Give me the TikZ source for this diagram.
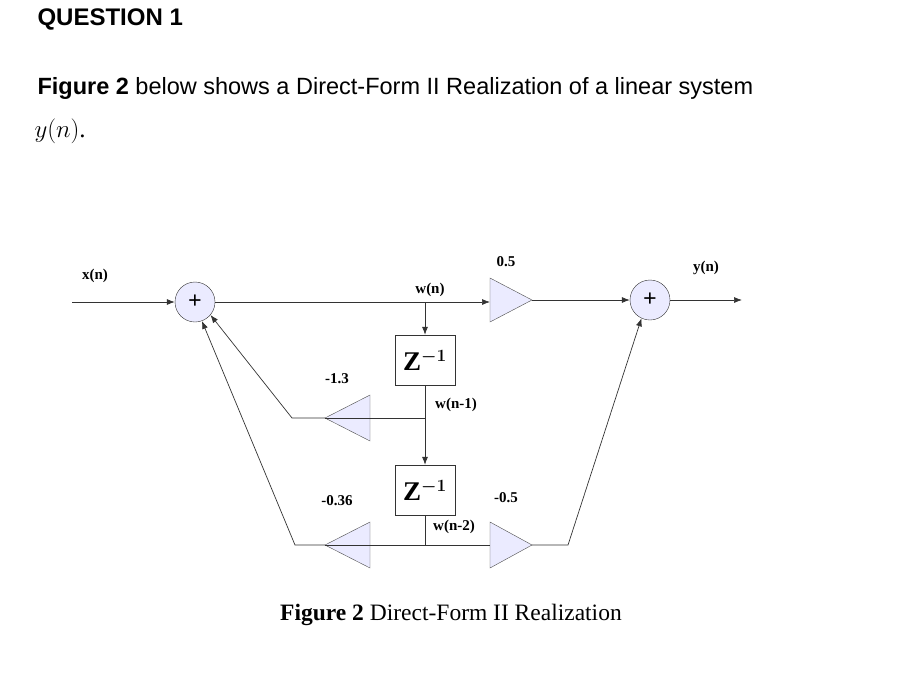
\documentclass[tikz,border=0pt]{standalone}
\usepackage{fontspec}
\setmainfont{Liberation Serif}
\newfontfamily\sansf{Liberation Sans}
\usetikzlibrary{arrows.meta}
\begin{document}
\begin{tikzpicture}[x=1pt,y=-1pt,
  sig/.style={draw=black!80,line width=0.7pt},
  arr/.style={sig,-{Latex[length=8pt,width=6pt]}},
  summ/.style={circle,draw=black!80,fill=blue!8,minimum size=40pt,inner sep=0pt,font=\fontsize{24}{24}\selectfont\bfseries},
  dly/.style={draw=black!80,fill=white,minimum width=60pt,minimum height=50pt,inner sep=0pt,font=\fontsize{27}{27}\selectfont\bfseries\boldmath},
  lab/.style={font=\fontsize{15}{15}\selectfont\bfseries},
  tri/.style={draw=black!70,fill=blue!8}]
\useasboundingbox (0,0) rectangle (907,678);
\node[anchor=west,font=\sansf\bfseries\fontsize{24}{24}\selectfont] (q) at (34,19) {QUESTION 1};
\node[anchor=west,font=\sansf\fontsize{23.5}{24}\selectfont] (t) at (34,88) {\textbf{Figure 2} below shows a Direct-Form II Realization of a linear system};
\node[anchor=west,font=\fontsize{25}{25}\selectfont] (t2) at (31,131) {$y(n)$.};
\node[font=\fontsize{23.5}{24}\selectfont] (cap) at (451,615) {\textbf{Figure 2} Direct-Form II Realization};

\node[summ] (s1) at (195,302) {+};
\node[summ] (s2) at (650,300) {+};
\node[dly] (d1) at (425,360) {Z$^{-1}$};
\node[dly] (d2) at (425,490) {Z$^{-1}$};
% triangles
\draw[tri] (490,278) -- (532,300) -- (490,322) -- cycle;
\draw[tri] (370,395) -- (325,418) -- (370,441) -- cycle;
\draw[tri] (370,522) -- (325,545) -- (370,568) -- cycle;
\draw[tri] (490,522) -- (532,545) -- (490,568) -- cycle;
\coordinate (in) at (72,302);
\coordinate (g0i) at (490,302);
\coordinate (g0o) at (532,300);
\coordinate (out) at (742,300);
\coordinate (b0) at (425,302);
\coordinate (b1) at (425,418);
\coordinate (b2) at (425,545);
\coordinate (g1o) at (325,418);
\coordinate (g1c) at (292,418);
\coordinate (g2o) at (325,545);
\coordinate (g2c) at (295,545);
\coordinate (g3i) at (490,545);
\coordinate (g3o) at (532,545);
\coordinate (g3c) at (568,545);
\draw[arr] (in) -- (s1);
\draw[arr] (s1) -- (g0i);
\draw[arr] (g0o) -- (s2);
\draw[arr] (s2) -- (out);
\draw[arr] (b0) -- (d1);
\draw[sig] (d1) -- (b1);
\draw[arr] (b1) -- (d2);
\draw[sig] (d2) -- (b2);
\draw[sig] (b1) -- (g1o);
\draw[arr] (g1o) -- (g1c) -- (s1.-40);
\draw[sig] (g2o) -- (g3i);
\draw[arr] (g2o) -- (g2c) -- (s1.-70);
\draw[arr] (g3o) -- (g3c) -- (s2.-115);
\node[lab] (lx) at (95,276) {x(n)};
\node[lab] (lw) at (430,290) {w(n)};
\node[lab] (l05) at (506,262) {0.5};
\node[lab] (ly) at (706,268) {y(n)};
\node[lab] (l13) at (337,379) {-1.3};
\node[lab] (lw1) at (456,405) {w(n-1)};
\node[lab] (l036) at (337,501) {-0.36};
\node[lab] (lw2) at (454,527) {w(n-2)};
\node[lab] (lm05) at (506,498) {-0.5};
\end{tikzpicture}
\end{document}
